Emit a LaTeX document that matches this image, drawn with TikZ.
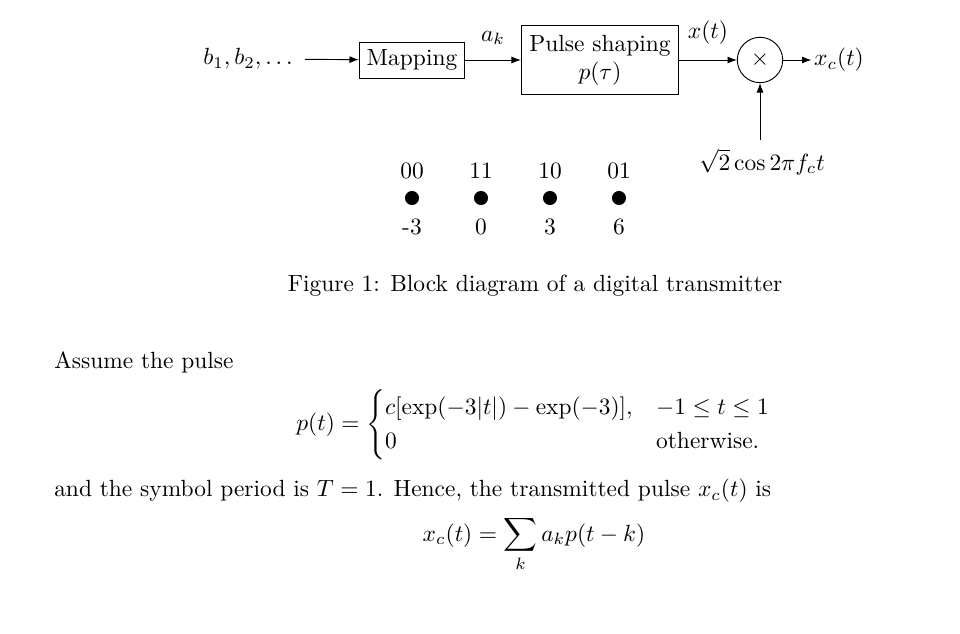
\documentclass[tikz,border=0pt]{standalone}
\usepackage{amsmath}
\usetikzlibrary{arrows.meta}
\begin{document}
\begin{tikzpicture}[x=0.0150cm,y=-0.0150cm]
% styles
\tikzset{blk/.style={draw,line width=0.4pt,inner sep=2pt},
  sig/.style={-{Latex[length=4pt]},line width=0.4pt},
  pt/.style={circle,fill,inner sep=0pt,minimum size=6pt}}
\useasboundingbox (0,0) rectangle (960,634);

% ----- transmitter chain -----
\node (bits) at (250,59) {$b_1,b_2,\dots$};
\node[blk,minimum width=1.58cm,minimum height=0.54cm] (map) at (412,60) {Mapping};
\node[blk,align=center,minimum width=2.36cm,minimum height=1.04cm] (ps) at (600,60) {Pulse shaping\\$p(\tau)$};
\node[draw,circle,inner sep=0pt,minimum size=0.68cm] (mix) at (760,60) {$\times$};
\node[inner sep=1pt] (out) at (839,60) {$x_c(t)$};
\node (car) at (762,162) {$\sqrt{2}\cos 2\pi f_c t$};
\coordinate (carin) at (760,140);

\draw[sig] (bits) -- (map);
\draw[sig] (map) -- node[above=3pt]{$a_k$} (ps);
\draw[sig] (ps) -- node[above=3pt]{$x(t)$} (mix);
\draw[sig] (mix) -- (out);
\draw[sig] (carin) -- (mix);

% ----- constellation -----
\foreach \x/\b/\v [count=\i] in {412/00/-3,481/11/0,550/10/3,619/01/6}{
  \node[pt] (c\i) at (\x,198) {};
  \node (cb\i) at (\x,171) {\b};
  \node (cv\i) at (\x,227) {\v};
}

% ----- caption & text -----
\node (cap) at (535,286) {Figure 1: Block diagram of a digital transmitter};
\node[anchor=west] (t1) at (46,362) {Assume the pulse};
\node (eq1) at (534,425) {$p(t)=\begin{cases}c[\exp(-3|t|)-\exp(-3)], & -1\le t\le 1\\ 0 & \text{otherwise.}\end{cases}$};
\node[anchor=west] (t2) at (46,491) {and the symbol period is $T=1$. Hence, the transmitted pulse $x_c(t)$ is};
\node[inner sep=0pt] (eq2) at (534,544) {$\displaystyle x_c(t)=\sum_k a_k p(t-k)$};
\end{tikzpicture}
\end{document}
